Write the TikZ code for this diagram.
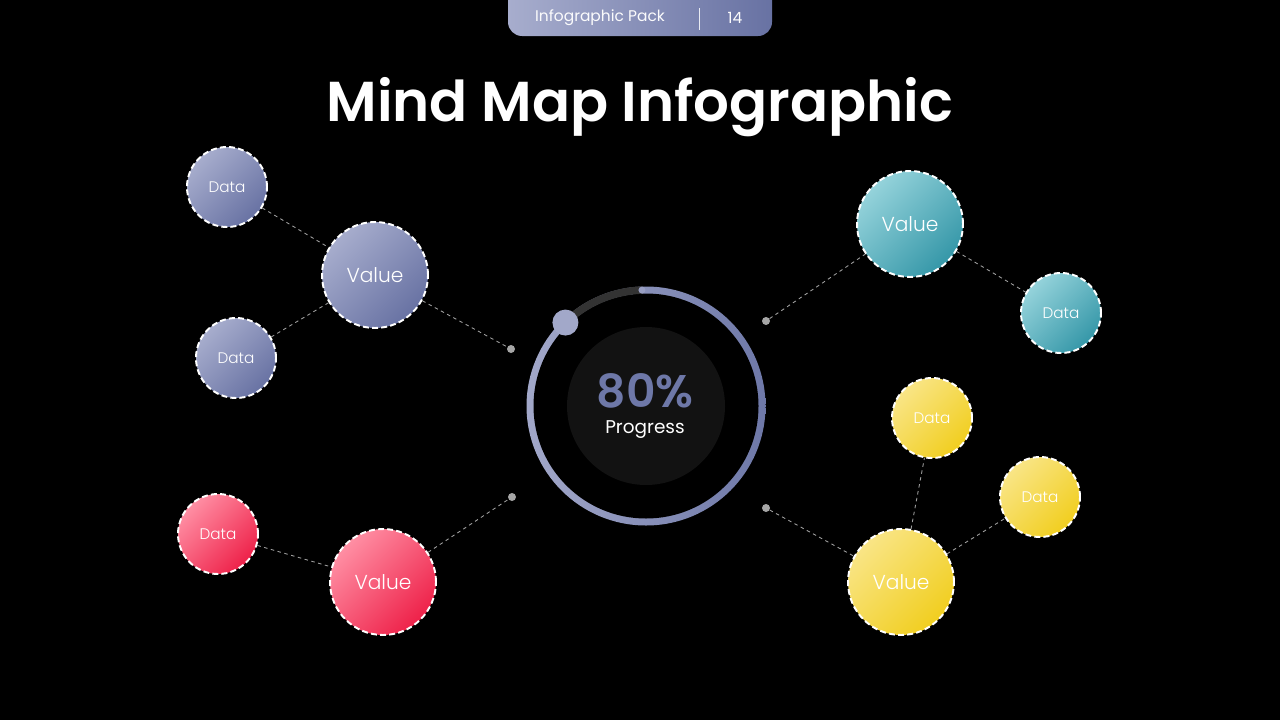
\documentclass[tikz,border=0pt]{standalone}
\usepackage{fontspec}
\setmainfont{Poppins}[BoldFont={Poppins SemiBold}]
\newfontfamily\lightfont{Poppins Light}
\definecolor{purpleA}{HTML}{A7ADCD}
\definecolor{purpleB}{HTML}{6872A3}
\definecolor{tealA}{HTML}{95D3DB}
\definecolor{tealB}{HTML}{3597A8}
\definecolor{redA}{HTML}{FF8FA4}
\definecolor{redB}{HTML}{EE2149}
\definecolor{yellowA}{HTML}{F9E586}
\definecolor{yellowB}{HTML}{F1CE1F}
\definecolor{ringA}{HTML}{A2A8C9}
\definecolor{ringB}{HTML}{6E78A8}
\definecolor{pct}{HTML}{6E78A8}
\tikzset{
  bubble/.style 2 args={circle, draw=white, line width=1.1pt, dash pattern=on 3.4pt off 1.8pt,
    text=white, inner sep=0pt, top color=#1, bottom color=#2, shading angle=45},
  valbub/.style 2 args={bubble={#1}{#2}, minimum size=2.12cm, font=\lightfont\fontsize{11.5}{13}\selectfont},
  databub/.style 2 args={bubble={#1}{#2}, minimum size=1.6cm, font=\lightfont\fontsize{8.7}{10}\selectfont},
  link/.style={draw=gray!75, line width=0.5pt, dash pattern=on 2pt off 2pt},
  pin/.style={circle, fill=gray!70, inner sep=0pt, minimum size=0.16cm}
}
\begin{document}
\begin{tikzpicture}[x=0.02cm, y=0.02cm]
  \fill[black] (0,0) rectangle (1280,-720);
  \useasboundingbox (0,0) rectangle (1280,-720);
  % top tab
  \begin{scope}
    \clip (0,0) rectangle (1280,-720);
    \shade[left color=purpleA, right color=purpleB, rounded corners=0.28cm] (508,20) rectangle (772,-36);
  \end{scope}
  \draw[white!75!purpleA, line width=0.5pt] (699,-8) -- (699,-30);
  \node[text=white!95!purpleA, font=\fontsize{8.8}{10}\selectfont] (tab) at (600,-18) {Infographic Pack};
  \node[text=white!95!purpleA, font=\fontsize{8.8}{10}\selectfont] (page) at (735,-18) {14};
  % title
  \node[anchor=base, text=white, font=\fontsize{32}{36}\selectfont\bfseries] (title) at (640,-121) {Mind Map Infographic};
  % progress ring
  \coordinate (ctr) at (646,-406);
  \shade[left color=ringA, right color=ringB] (ctr) circle (119.5);
  \fill[black] (ctr) circle (112.5);
  \fill[black!93!white] (ctr) circle (79);
  \draw[black!80!white, line width=0.15cm] (ctr) ++(134:116) arc (134:92:116);
  \fill[ringA!80!ringB] (ctr) ++(92:116) circle (3.5);
  \fill[ringA] (ctr) ++(134:116) circle (13);
  \node[text=pct, font=\fontsize{26}{30}\selectfont\bfseries] (pcent) at (645,-391) {80\%};
  \node[text=white, font=\fontsize{10.5}{12}\selectfont] (prog) at (645,-430) {Progress};
  % pins
  \node[pin] (pinNW) at (511,-349) {};
  \node[pin] (pinSW) at (512,-497) {};
  \node[pin] (pinNE) at (766,-321) {};
  \node[pin] (pinSE) at (766,-508) {};
  % bubbles
  \node[valbub={purpleA}{purpleB}] (valP) at (375,-275) {Value};
  \node[databub={purpleA}{purpleB}] (datP1) at (227,-187) {Data};
  \node[databub={purpleA}{purpleB}] (datP2) at (236,-358) {Data};
  \node[valbub={tealA}{tealB}] (valT) at (910,-224) {Value};
  \node[databub={tealA}{tealB}] (datT) at (1061,-313) {Data};
  \node[valbub={redA}{redB}] (valR) at (383,-582) {Value};
  \node[databub={redA}{redB}] (datR) at (218,-534) {Data};
  \node[valbub={yellowA}{yellowB}] (valY) at (901,-582) {Value};
  \node[databub={yellowA}{yellowB}] (datY1) at (932,-418) {Data};
  \node[databub={yellowA}{yellowB}] (datY2) at (1040,-497) {Data};
  % links
  \draw[link] (datP1) -- (valP);
  \draw[link] (datP2) -- (valP);
  \draw[link] (valP) -- (pinNW);
  \draw[link] (pinNE) -- (valT);
  \draw[link] (valT) -- (datT);
  \draw[link] (datR) -- (valR);
  \draw[link] (valR) -- (pinSW);
  \draw[link] (pinSE) -- (valY);
  \draw[link] (valY) -- (datY1);
  \draw[link] (valY) -- (datY2);
\end{tikzpicture}
\end{document}
